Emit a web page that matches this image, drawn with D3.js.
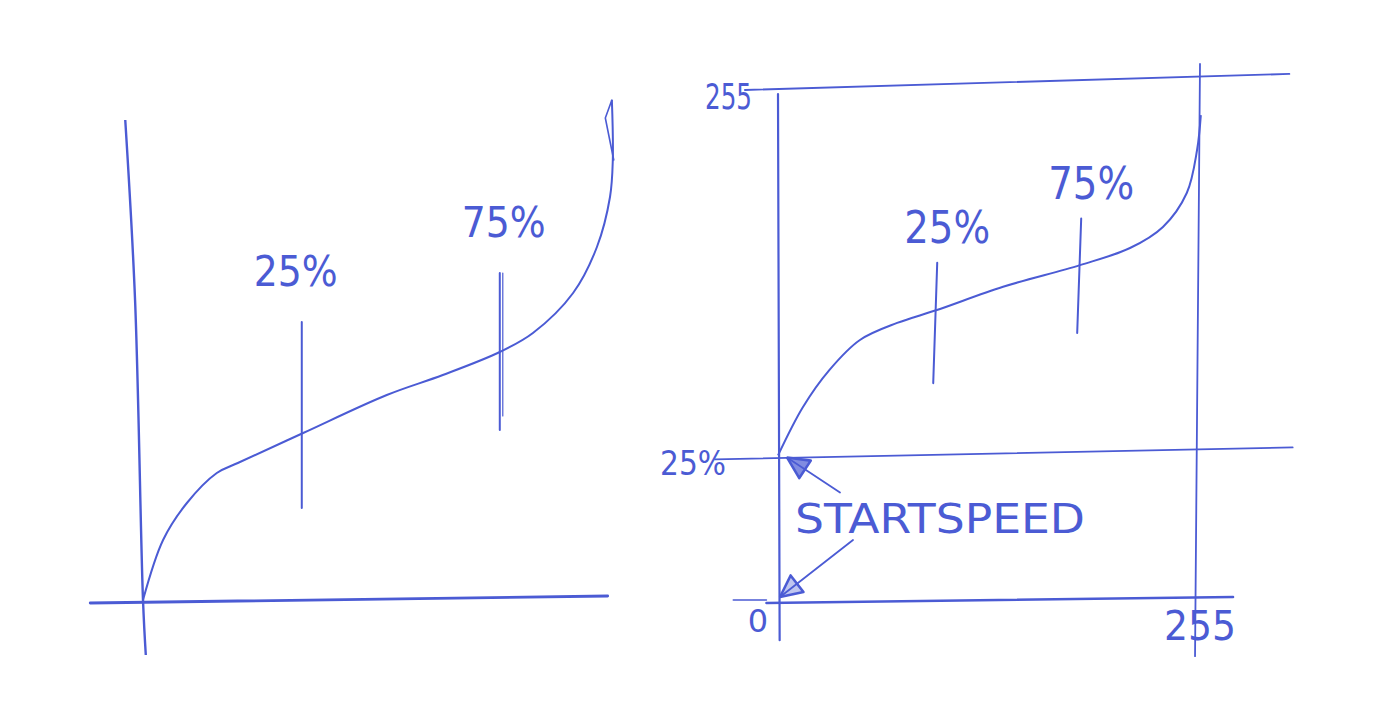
<!DOCTYPE html>
<html>
<head>
<meta charset="utf-8">
<script src="https://cdn.jsdelivr.net/npm/d3@7"></script>
<style>
  body { margin: 0; background: #fff; }
  svg { display: block; }
  text { font-family: "DejaVu Sans", "Liberation Sans", sans-serif; fill: #4b5bd4; }
</style>
</head>
<body>
<svg id="canvas" width="1380" height="722"></svg>
<script>
(function() {

    var W = 1380,
        H = 722,
        ink = '#4b5bd4'; // ballpoint blue

    // left sketch: unlabeled, 0..100 on both axes
    var leftCurve = [
        [0, 0], [4.3, 12], [9.4, 19.4], [15.8, 25.4], [20.3, 27.4], [34.3, 33.4],
        [52.2, 41], [64.2, 45], [76.4, 49.6], [83.5, 53.4], [92.1, 61.4],
        [97.2, 70.6], [100, 80.6], [100.6, 88], [100.4, 100]
    ];
    var leftMarks = ['25%', '75%'];
    var leftMarkX = [34, 76.4];
    var leftMarkLo = [18.4, 34];
    var leftMarkHi = [55.6, 65.4];

    // right sketch: 0..255 on both axes, start speed at 25%
    var rightCurve = [
        [0, 72], [15, 96], [31, 114.5], [49.5, 129.5], [72, 138], [96, 144.4],
        [136, 156], [182.5, 166.8], [212.7, 175.3], [232.6, 185.8],
        [247, 202.7], [253.2, 224], [255.5, 241.5]
    ];
    var rightMarks = ['25%', '75%'];
    var rightMarkX = [95, 182];
    var rightMarkLo = [108, 133];
    var rightMarkHi = [168, 190];
    var maxValue = 255;
    var startSpeed = 72;
    var startLabel = '25%';
    var xTickLabels = ['0', '255'];
    var yTickLabels = ['255'];
    var note = 'STARTSPEED';

    var svg = d3.select('#canvas');
    svg.append('rect').attr('width', W).attr('height', H).attr('fill', '#fff');

    var line = d3.line()
        .x(function(d) { return d[0]; })
        .y(function(d) { return d[1]; });

    function stroke(g, pts, w) {
        return g.append('path')
            .attr('d', line.curve(d3.curveLinear)(pts))
            .attr('fill', 'none')
            .attr('stroke', ink)
            .attr('stroke-width', w || 2)
            .attr('stroke-linecap', 'round')
            .attr('stroke-linejoin', 'round');
    }

    // ---------- left panel ----------
    var lx = d3.scaleLinear().domain([0, 100]).range([143, 610]);
    var ly = d3.scaleLinear().domain([0, 100]).range([600, 100]);
    var gl = svg.append('g');

    gl.append('path')
        .attr('d', d3.line().curve(d3.curveCatmullRom)([
            [lx(-3.8), ly(96)], [lx(-1.7), ly(60)], [lx(0), ly(0)], [lx(0.6), ly(-11)]
        ]))
        .attr('fill', 'none').attr('stroke', ink).attr('stroke-width', 2.4);
    stroke(gl, [[lx(-11.3), ly(-0.6)], [lx(99.5), ly(0.8)]], 2.8);

    gl.append('path')
        .datum(leftCurve)
        .attr('d', d3.line()
            .x(function(d) { return lx(d[0]); })
            .y(function(d) { return ly(d[1]); })
            .curve(d3.curveCatmullRom.alpha(0.5)))
        .attr('fill', 'none')
        .attr('stroke', ink)
        .attr('stroke-width', 2);
    // little pen flourish at the top of the curve
    stroke(gl, [[lx(100.4), ly(100)], [lx(99), ly(96.4)], [lx(100.8), ly(88)]], 1.6);

    var leftLabelShift = [-6, 4];
    leftMarks.forEach(function(m, i) {
        var x = lx(leftMarkX[i]);
        stroke(gl, [[x, ly(leftMarkHi[i])], [x, ly(leftMarkLo[i])]], 2);
        if (i === 1) {
            stroke(gl, [[x + 3, ly(leftMarkHi[i])], [x + 3, ly(leftMarkLo[i]) - 14]], 1.2);
        }
        gl.append('text')
            .attr('x', x + leftLabelShift[i])
            .attr('y', ly(leftMarkHi[i]) - 36)
            .attr('text-anchor', 'middle')
            .attr('font-size', 42)
            .attr('textLength', 84)
            .attr('lengthAdjust', 'spacingAndGlyphs')
            .text(m);
    });

    // ---------- right panel ----------
    var rx = d3.scaleLinear().domain([0, maxValue]).range([778, 1200]);
    var ry = d3.scaleLinear().domain([0, maxValue]).range([600, 88]);
    var gr = svg.append('g');

    // frame
    stroke(gr, [[rx(0), ry(252)], [rx(1), ry(-20)]], 2.2);
    stroke(gr, [[rx(-20), ry(254)], [rx(309), ry(262)]], 1.8);
    stroke(gr, [[rx(255), ry(267)], [rx(252), ry(-28)]], 1.8);
    stroke(gr, [[rx(-38), ry(startSpeed - 2)], [rx(311), ry(startSpeed + 4)]], 1.8);
    stroke(gr, [[rx(-27), ry(0)], [rx(-7), ry(0)]], 1.6);
    stroke(gr, [[rx(-7), ry(-1.5)], [rx(275), ry(1.5)]], 2.4);

    gr.append('path')
        .datum(rightCurve)
        .attr('d', d3.line()
            .x(function(d) { return rx(d[0]); })
            .y(function(d) { return ry(d[1]); })
            .curve(d3.curveCatmullRom.alpha(0.5)))
        .attr('fill', 'none')
        .attr('stroke', ink)
        .attr('stroke-width', 2);

    rightMarks.forEach(function(m, i) {
        var x = rx(rightMarkX[i]);
        stroke(gr, [[x + 2, ry(rightMarkHi[i])], [x - 2, ry(rightMarkLo[i])]], 2);
        gr.append('text')
            .attr('x', x + 12)
            .attr('y', ry(rightMarkHi[i]) - 20)
            .attr('text-anchor', 'middle')
            .attr('font-size', 44)
            .attr('textLength', 86)
            .attr('lengthAdjust', 'spacingAndGlyphs')
            .text(m);
    });

    // tick labels
    gr.append('text')
        .attr('x', rx(0) - 26).attr('y', ry(maxValue) + 21)
        .attr('text-anchor', 'end')
        .attr('font-size', 35)
        .attr('textLength', 47)
        .attr('lengthAdjust', 'spacingAndGlyphs')
        .text(yTickLabels[0]);
    gr.append('text')
        .attr('x', rx(0) - 52).attr('y', ry(startSpeed) + 20)
        .attr('text-anchor', 'end')
        .attr('font-size', 34)
        .attr('textLength', 66)
        .attr('lengthAdjust', 'spacingAndGlyphs')
        .text(startLabel);
    gr.append('text')
        .attr('x', rx(0) - 20).attr('y', ry(0) + 32)
        .attr('text-anchor', 'middle')
        .attr('font-size', 32)
        .text(xTickLabels[0]);
    gr.append('text')
        .attr('x', rx(maxValue)).attr('y', ry(0) + 40)
        .attr('text-anchor', 'middle')
        .attr('font-size', 40)
        .attr('textLength', 72)
        .attr('lengthAdjust', 'spacingAndGlyphs')
        .text(xTickLabels[1]);

    // STARTSPEED note with two arrows
    gr.append('text')
        .attr('x', rx(0) + 17).attr('y', ry(startSpeed) + 78)
        .attr('font-size', 40)
        .attr('textLength', 290)
        .attr('lengthAdjust', 'spacingAndGlyphs')
        .text(note);

    function arrow(tail, tip, shade) {
        var a = Math.atan2(tail[1] - tip[1], tail[0] - tip[0]),
            len = 24, spread = 0.45;
        stroke(gr, [tail, tip], 1.8);
        var p1 = [tip[0] + len * Math.cos(a - spread), tip[1] + len * Math.sin(a - spread)],
            p2 = [tip[0] + len * Math.cos(a + spread), tip[1] + len * Math.sin(a + spread)];
        gr.append('path')
            .attr('d', line([tip, p1, p2, tip]))
            .attr('fill', ink)
            .attr('fill-opacity', shade)
            .attr('stroke', ink)
            .attr('stroke-width', 2.6)
            .attr('stroke-linejoin', 'round');
    }
    arrow([rx(0) + 62, ry(startSpeed) + 37], [rx(0) + 9, ry(startSpeed) + 2], 0.7);
    arrow([rx(0) + 75, ry(0) - 60], [rx(0) + 2, ry(0) - 3], 0.35);

})();
</script>
</body>
</html>
